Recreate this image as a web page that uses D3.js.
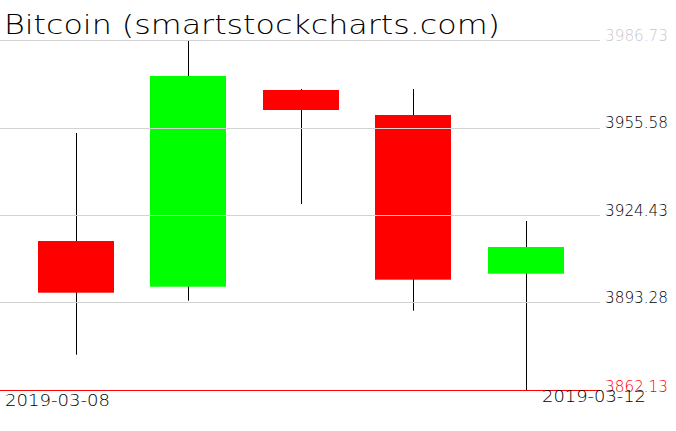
<!DOCTYPE html>
<html><head><meta charset="utf-8">
<script src="https://cdn.jsdelivr.net/npm/d3@7"></script>
<style>html,body{margin:0;padding:0;background:#fff;}svg{display:block;}
text{font-family:"DejaVu Sans ExtraLight","DejaVu Sans Light","Lato Light","Roboto Light","DejaVu Sans",sans-serif;font-weight:200;}</style>
</head><body>
<svg id="c" width="676" height="431"></svg>
<script>
const dates = ["2019-03-08","2019-03-09","2019-03-10","2019-03-11","2019-03-12"];
const opens  = [3915.17, 3898.90, 3968.93, 3960.03, 3903.53];
const highs  = [3953.62, 3986.73, 3969.29, 3969.29, 3922.29];
const lows   = [3874.70, 3893.92, 3928.35, 3890.36, 3862.13];
const closes = [3896.77, 3973.91, 3961.81, 3901.40, 3913.04];
const yTicks = [3862.13, 3893.28, 3924.43, 3955.58, 3986.73];
const xLabels = ["2019-03-08", "2019-03-12"];
const title = "Bitcoin (smartstockcharts.com)";

const data = dates.map((d,i)=>({d, o:opens[i], h:highs[i], l:lows[i], c:closes[i]}));
const svg = d3.select("#c");
const x = d3.scalePoint().domain(dates).range([75.5, 525.5]);
const y = d3.scaleLinear().domain([d3.min(yTicks), d3.max(yTicks)]).range([390, 40]);
const bw = 76;
const cx = d => Math.round(x(d)) + 0.5;

// wicks
svg.append("g").selectAll("line").data(data).join("line")
  .attr("x1", d=>cx(d.d)).attr("x2", d=>cx(d.d))
  .attr("y1", d=>y(d.h)).attr("y2", d=>y(d.l))
  .attr("stroke","#000").attr("stroke-width",1);
// bodies
svg.append("g").selectAll("rect").data(data).join("rect")
  .attr("x", d=>Math.round(x(d.d) - bw/2))
  .attr("width", bw)
  .attr("y", d=>y(Math.max(d.o,d.c)))
  .attr("height", d=>Math.max(1, y(Math.min(d.o,d.c)) - y(Math.max(d.o,d.c))))
  .attr("fill", d=> d.c >= d.o ? "#00ff00" : "#ff0000");

// gridlines
const ymin = d3.min(yTicks), ymax = d3.max(yTicks);
svg.append("g").selectAll("line").data(yTicks).join("line")
  .attr("x1",0).attr("x2",600)
  .attr("y1", v=>Math.round(y(v))+0.5).attr("y2", v=>Math.round(y(v))+0.5)
  .attr("stroke", v=> v===ymin ? "#ff0000" : "#d3d3d3").attr("stroke-width",1);

// y labels
svg.append("g").selectAll("text").data(yTicks).join("text")
  .attr("x",605).attr("y", v=> v===ymin ? y(v)+1.5 : y(v)+0.5)
  .attr("font-size",15)
  .attr("fill", v=> v===ymin ? "#ff0000" : (v===ymax ? "#c8c8c8" : "#000"))
  .attr("textLength",63).attr("lengthAdjust","spacingAndGlyphs")
  .text(v=>v.toFixed(2));

// x labels
svg.append("text").attr("x",5).attr("y",406).attr("font-size",15).attr("fill","#000")
  .attr("textLength",105).attr("lengthAdjust","spacingAndGlyphs").text(xLabels[0]);
svg.append("text").attr("x",542).attr("y",402).attr("font-size",15).attr("fill","#000")
  .attr("textLength",104).attr("lengthAdjust","spacingAndGlyphs").text(xLabels[1]);

// title
svg.append("text").attr("x",4).attr("y",34).attr("font-size",26).attr("fill","#000")
  .attr("textLength",496).attr("lengthAdjust","spacingAndGlyphs").text(title);
</script>
</body></html>
